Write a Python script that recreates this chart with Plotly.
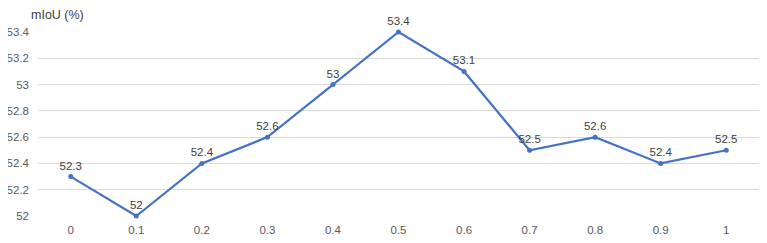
import plotly.graph_objects as go

categories = ["0", "0.1", "0.2", "0.3", "0.4", "0.5", "0.6", "0.7", "0.8", "0.9", "1"]
miou = [52.3, 52.0, 52.4, 52.6, 53.0, 53.4, 53.1, 52.5, 52.6, 52.4, 52.5]
labels = ["52.3", "52", "52.4", "52.6", "53", "53.4", "53.1", "52.5", "52.6", "52.4", "52.5"]
ytick_vals = [52, 52.2, 52.4, 52.6, 52.8, 53, 53.2, 53.4]
ytick_text = ["52", "52.2", "52.4", "52.6", "52.8", "53", "53.2", "53.4"]

font = "Liberation Sans, Arial, sans-serif"

fig = go.Figure()
fig.add_trace(go.Scatter(
    x=categories, y=miou, mode="lines+markers+text",
    text=labels, textposition="top center",
    textfont=dict(family=font, size=11.5, color="#404040"),
    line=dict(color="#4472C4", width=2.2),
    marker=dict(color="#4472C4", size=5),
    cliponaxis=False, showlegend=False,
))

fig.update_layout(
    width=767, height=243,
    margin=dict(l=30, r=16, t=24, b=35),
    paper_bgcolor="white", plot_bgcolor="white",
    font=dict(family=font, size=11, color="#595959"),
    xaxis=dict(type="category", range=[-0.5, 10.5], showgrid=False,
               showline=False, zeroline=False, ticks="", automargin=False,
               ticklabelstandoff=5,
               tickfont=dict(family=font, size=11.5, color="#595959")),
    yaxis=dict(range=[52, 53.4], tickvals=ytick_vals, ticktext=ytick_text,
               showgrid=True, gridcolor="#d9d9d9", gridwidth=1, automargin=False,
               zeroline=False, showline=False, ticks="", ticklabelstandoff=8,
               tickfont=dict(family=font, size=11.5, color="#595959")),
    annotations=[dict(text="mIoU (%)", xref="paper", yref="paper",
                      x=0, xshift=-8, y=1.0, yshift=17, xanchor="left", yanchor="middle",
                      showarrow=False, borderpad=0,
                      font=dict(family=font, size=12.5, color="#404040"))],
)

fig.write_html("out.html")
